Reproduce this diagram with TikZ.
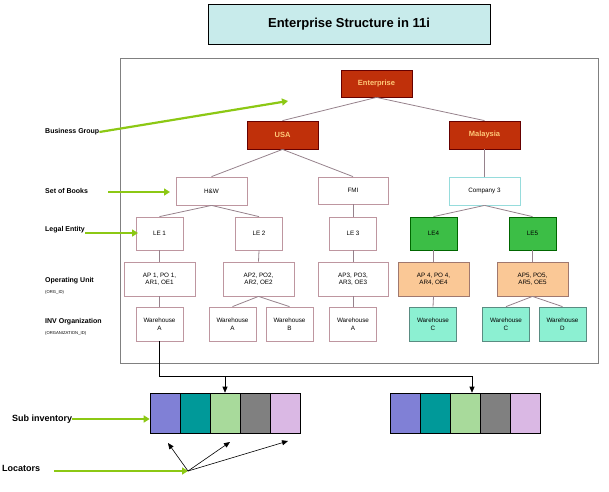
\documentclass[tikz,border=0pt]{standalone}
\usepackage{fontspec}
\setmainfont{Liberation Sans}
\usetikzlibrary{arrows.meta}
\definecolor{cred}{RGB}{192,48,10}
\definecolor{credt}{RGB}{255,200,120}
\definecolor{cpl}{RGB}{190,150,160}
\definecolor{cgr}{RGB}{60,190,70}
\definecolor{cpe}{RGB}{250,200,150}
\definecolor{cped}{RGB}{160,120,110}
\definecolor{caq}{RGB}{140,240,210}
\definecolor{caqd}{RGB}{90,140,130}
\definecolor{cedge}{RGB}{150,130,140}
\definecolor{cgreen}{RGB}{140,200,20}
\definecolor{ctitle}{RGB}{200,235,235}
\definecolor{cc3}{RGB}{150,220,220}
\definecolor{k1}{RGB}{128,128,214}
\definecolor{k2}{RGB}{0,153,153}
\definecolor{k3}{RGB}{168,218,155}
\definecolor{k4}{RGB}{128,128,128}
\definecolor{k5}{RGB}{218,184,228}
\begin{document}
\begin{tikzpicture}[x=1pt,y=-1pt,
 box/.style={draw=#1,line width=0.8pt,inner sep=0pt,align=center,font=\fontsize{6.3}{7.5}\selectfont},
 red/.style={box=red!40!black,fill=cred,text=credt,font=\fontsize{7.5}{8}\selectfont\bfseries},
 pl/.style={box=cpl,fill=white},
 gr/.style={box=green!40!black,fill=cgr},
 pe/.style={box=cped,fill=cpe},
 aq/.style={box=caqd,fill=caq},
 ed/.style={draw=cedge,line width=0.8pt},
 ga/.style={draw=cgreen,line width=2.2pt,-{Triangle[length=6pt,width=7pt]}},
 lab/.style={anchor=west,font=\fontsize{7}{8}\selectfont\bfseries,inner sep=0pt},
 sm/.style={anchor=west,font=\fontsize{4.2}{5}\selectfont,inner sep=0pt},
 cell/.style={draw=black,line width=0.6pt,minimum width=30pt,minimum height=40pt,inner sep=0pt}]
\useasboundingbox (0,0) rectangle (609,491);
\node[draw=black,fill=ctitle,minimum width=282pt,minimum height=40pt,font=\fontsize{13}{14}\selectfont\bfseries] (title) at (349,24) {Enterprise Structure in 11i};
\node[draw=gray,line width=0.6pt,minimum width=478pt,minimum height=305pt] (frame) at (359,210.5) {};
% nodes
\node[red,minimum width=71pt,minimum height=27pt] (ent) at (376.5,83.5) {Enterprise};
\node[red,minimum width=71pt,minimum height=28pt] (usa) at (282.5,135) {USA};
\node[red,minimum width=71pt,minimum height=28pt] (mal) at (484.5,135) {Malaysia};
\node[pl,minimum width=71pt,minimum height=28pt] (hw) at (211.5,191) {H\&W};
\node[pl,minimum width=70pt,minimum height=27pt] (fmi) at (353,190.5) {FMI};
\node[box=cc3,fill=white,minimum width=71pt,minimum height=28pt] (c3) at (484.5,191) {Company 3};
\foreach \n/\x/\s/\t in {le1/159.5/pl/LE 1,le2/259/pl/LE 2,le3/353/pl/LE 3,le4/433.5/gr/LE4,le5/532.5/gr/LE5}
  \node[\s,minimum width=47pt,minimum height=33pt] (\n) at (\x,233.5) {\t};
\node[pl,minimum width=71pt,minimum height=34pt] (ou1) at (159.5,279) {AP 1, PO 1,\\AR1, OE1};
\node[pl,minimum width=71pt,minimum height=34pt] (ou2) at (258.5,279) {AP2, PO2,\\AR2, OE2};
\node[pl,minimum width=70pt,minimum height=34pt] (ou3) at (353,279) {AP3, PO3,\\AR3, OE3};
\node[pe,minimum width=71pt,minimum height=34pt] (ou4) at (433.5,279) {AP 4, PO 4,\\AR4, OE4};
\node[pe,minimum width=71pt,minimum height=34pt] (ou5) at (532.5,279) {AP5, PO5,\\AR5, OE5};
\foreach \n/\x/\s/\t in {w1/159.5/pl/A,w2/232.5/pl/A,w3/289.5/pl/B,w4/353/pl/A,w5/433/aq/C,w6/506/aq/C,w7/562.5/aq/D}
  \node[\s,minimum width=47pt,minimum height=34pt] (\n) at (\x,324) {Warehouse\\\t};
% edges
\foreach \a/\b in {ent/usa,ent/mal,usa/hw,usa/fmi,mal/c3,hw/le1,hw/le2,fmi/le3,c3/le4,c3/le5,le1/ou1,le2/ou2,le3/ou3,le4/ou4,le5/ou5,ou1/w1,ou2/w2,ou2/w3,ou3/w4,ou4/w5,ou5/w6,ou5/w7}
  \draw[ed] (\a.south) -- (\b.north);
% left labels
\node[lab] (bg) at (45,132) {Business Group};
\node[lab] (sob) at (45,191) {Set of Books};
\node[lab] (le) at (45,230) {Legal Entity};
\node[lab] (ou) at (45,281) {Operating Unit};
\node[sm] (oid) at (45,292) {(ORG\_ID)};
\node[lab] (inv) at (45,322) {INV Organization};
\node[sm] (iid) at (45,333) {(ORGANIZATION\_ID)};
\coordinate (bgt) at (288,101);
\draw[ga] (bg.east) -- (bgt);
\coordinate (sobt) at (170,192);
\draw[ga] (108,192) -- (sobt);
\coordinate (let) at (138,233);
\draw[ga] (le.east|-let) -- (let);
% sub inventories
\foreach \i/\c in {1/k1,2/k2,3/k3,4/k4,5/k5}{
  \node[cell,fill=\c] (a\i) at (135+30*\i,413) {};
  \node[cell,fill=\c] (b\i) at (375+30*\i,413) {};}
\coordinate (j1) at (159.5,376);
\coordinate (j2) at (472,376);
\draw[line width=0.6pt] (w1.south) -- (j1) -- (j2);
\draw[line width=0.6pt,-{Triangle[length=6pt,width=5pt]}] (a3.north|-j1) -- (a3.north);
\draw[line width=0.6pt,-{Triangle[length=6pt,width=5pt]}] (j2) -- (j2|-b3.north);
\node[anchor=west,font=\fontsize{9}{10}\selectfont\bfseries,inner sep=0pt] (sub) at (12,419) {Sub inventory};
\draw[ga] (sub.east) -- (a1.west|-sub.east);
\node[anchor=west,font=\fontsize{9}{10}\selectfont\bfseries,inner sep=0pt] (loc) at (2,468) {Locators};
\coordinate (lp) at (188,471);
\draw[ga] ([xshift=14pt]loc.east|-lp) -- (lp);
\foreach \t in {(168,443),(230,442),(288,441)}
  \draw[line width=0.6pt,-{Triangle[length=6pt,width=5pt]}] (lp) -- \t;
\end{tikzpicture}
\end{document}
